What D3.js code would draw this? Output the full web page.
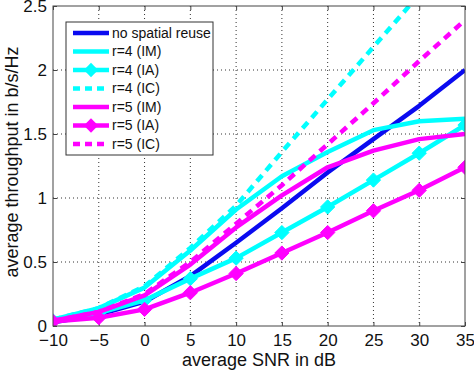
<!DOCTYPE html>
<html><head><meta charset="utf-8">
<script src="https://cdn.jsdelivr.net/npm/d3@7"></script>
<style>
body{margin:0;background:#fff;}
text{font-family:"Liberation Sans",Arial,Helvetica,sans-serif;}
</style></head><body>
<svg id="c" width="474" height="371"></svg>
<script>
const snr = [-10, -5, 0, 5, 10, 15, 20, 25, 30, 35];
const noReuse = [0.03, 0.09, 0.19, 0.39, 0.65, 0.92, 1.20, 1.46, 1.72, 2.0];
const r4IM = [0.05, 0.14, 0.30, 0.59, 0.91, 1.17, 1.36, 1.53, 1.60, 1.62];
const r4IA = [0.04, 0.10, 0.20, 0.37, 0.53, 0.73, 0.93, 1.14, 1.35, 1.57];
const r4IC = [0.05, 0.14, 0.31, 0.61, 0.94, 1.36, 1.77, 2.18, 2.59];
const r5IM = [0.04, 0.11, 0.24, 0.48, 0.77, 1.02, 1.24, 1.37, 1.46, 1.50];
const r5IA = [0.035, 0.065, 0.13, 0.26, 0.41, 0.57, 0.73, 0.90, 1.06, 1.24];
const r5IC = [0.04, 0.11, 0.25, 0.50, 0.80, 1.10, 1.42, 1.74, 2.07, 2.39];
const xTicks = [-10, -5, 0, 5, 10, 15, 20, 25, 30, 35];
const yTicks = [0, 0.5, 1, 1.5, 2, 2.5];
const seriesNames = ["no spatial reuse", "r=4 (IM)", "r=4 (IA)", "r=4 (IC)", "r=5 (IM)", "r=5 (IA)", "r=5 (IC)"];

const BLUE = "#0a0af0", CYAN = "#00ffff", MAG = "#ff00ff";
const series = [
  {name: seriesNames[0], vals: noReuse, color: BLUE, dash: null, marker: false},
  {name: seriesNames[1], vals: r4IM, color: CYAN, dash: null, marker: false},
  {name: seriesNames[2], vals: r4IA, color: CYAN, dash: null, marker: true},
  {name: seriesNames[3], vals: r4IC, color: CYAN, dash: "8,6", marker: false},
  {name: seriesNames[4], vals: r5IM, color: MAG, dash: null, marker: false},
  {name: seriesNames[5], vals: r5IA, color: MAG, dash: null, marker: true},
  {name: seriesNames[6], vals: r5IC, color: MAG, dash: "8,6", marker: false}
];

const L = 53, R = 465, T = 6, B = 326;
const svg = d3.select("#c");
const x = d3.scaleLinear().domain([-10, 35]).range([L, R]);
const y = d3.scaleLinear().domain([0, 2.5]).range([B, T]);

svg.append("defs").append("clipPath").attr("id", "clip")
  .append("rect").attr("x", L).attr("y", T).attr("width", R - L).attr("height", B - T);

// grid
const grid = svg.append("g");
xTicks.slice(1, -1).forEach(v => grid.append("line")
  .attr("x1", x(v)).attr("x2", x(v)).attr("y1", T).attr("y2", B)
  .attr("stroke", "#333").attr("stroke-width", 1).attr("stroke-dasharray", "1,3"));
yTicks.slice(1, -1).forEach(v => grid.append("line")
  .attr("x1", L).attr("x2", R).attr("y1", y(v)).attr("y2", y(v))
  .attr("stroke", "#333").attr("stroke-width", 1).attr("stroke-dasharray", "1,3"));

// axes
const xAxis = d3.axisBottom(x).tickValues(xTicks).tickSizeInner(-4).tickSizeOuter(0).tickPadding(8)
  .tickFormat(d => d < 0 ? "\u2212" + Math.abs(d) : String(d));
const yAxis = d3.axisLeft(y).tickValues(yTicks).tickSizeInner(-4).tickSizeOuter(0).tickPadding(6)
  .tickFormat(d => String(d));
const gx = svg.append("g").attr("transform", `translate(0,${B})`).call(xAxis);
const gy = svg.append("g").attr("transform", `translate(${L},0)`).call(yAxis);
const gxt = svg.append("g").attr("transform", `translate(0,${T})`).call(d3.axisTop(x).tickValues(xTicks).tickSizeInner(-4).tickSizeOuter(0).tickFormat(""));
const gyr = svg.append("g").attr("transform", `translate(${R},0)`).call(d3.axisRight(y).tickValues(yTicks).tickSizeInner(-4).tickSizeOuter(0).tickFormat(""));
[gx, gy, gxt, gyr].forEach(g => {
  g.select(".domain").remove();
  g.selectAll("line").attr("stroke", "#444");
  g.selectAll("text").attr("font-size", 17).attr("fill", "#111");
});
gy.selectAll("text").attr("dy", "0.35em");

// series
const plot = svg.append("g").attr("clip-path", "url(#clip)");
const line = d3.line().x((d, i) => x(snr[i])).y(d => y(d));
series.forEach(s => {
  plot.append("path").datum(s.vals).attr("d", line)
    .attr("fill", "none").attr("stroke", s.color).attr("stroke-width", 4.5)
    .attr("stroke-linejoin", "round")
    .attr("stroke-dasharray", s.dash);
  if (s.marker) {
    plot.selectAll(null).data(s.vals).enter().append("path")
      .attr("d", d3.symbol(d3.symbolDiamond2, 130)())
      .attr("transform", (d, i) => `translate(${x(snr[i])},${y(d)})`)
      .attr("fill", s.color).attr("stroke", s.color).attr("stroke-width", 1);
  }
});

// frame
svg.append("rect").attr("x", L).attr("y", T).attr("width", R - L).attr("height", B - T)
  .attr("fill", "none").attr("stroke", "#444").attr("stroke-width", 1);

// axis titles
svg.append("text").attr("x", (L + R) / 2 - 0).attr("y", 366).attr("text-anchor", "middle")
  .attr("font-size", 18).attr("fill", "#111").text("average SNR in dB");
svg.append("text").attr("transform", `translate(18,${(T + B) / 2 - 4}) rotate(-90)`).attr("text-anchor", "middle")
  .attr("font-size", 18).attr("fill", "#111").text("average throughput in b/s/Hz");

// legend
const lg = svg.append("g");
lg.append("rect").attr("x", 66).attr("y", 22).attr("width", 147).attr("height", 133)
  .attr("fill", "#fff").attr("stroke", "#333").attr("stroke-width", 1);
series.forEach((s, i) => {
  const yy = 33 + i * 18.5;
  lg.append("line").attr("x1", 73).attr("x2", 109).attr("y1", yy).attr("y2", yy)
    .attr("stroke", s.color).attr("stroke-width", 4.5).attr("stroke-dasharray", s.dash ? "7,5" : null);
  if (s.marker) lg.append("path").attr("d", d3.symbol(d3.symbolDiamond2, 130)())
    .attr("transform", `translate(91,${yy})`).attr("fill", s.color);
  lg.append("text").attr("x", 112).attr("y", yy).attr("dy", "0.35em")
    .attr("font-size", 14).attr("fill", "#111").text(s.name);
});
</script>
</body></html>
